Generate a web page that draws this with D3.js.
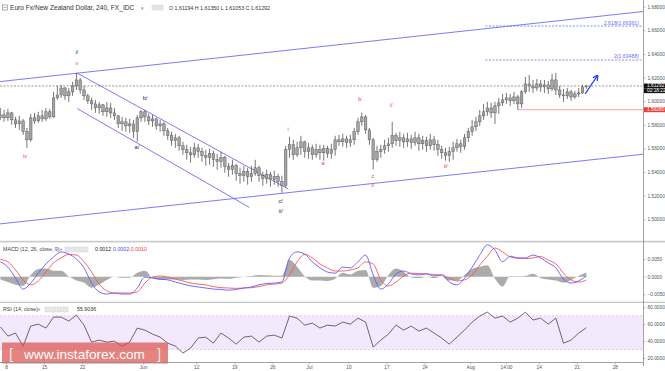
<!DOCTYPE html>
<html>
<head>
<meta charset="utf-8">
<script src="https://cdn.jsdelivr.net/npm/d3@7/dist/d3.min.js"></script>
<style>
  body { margin: 0; background: #fff; }
  svg { display: block; font-family: "Liberation Sans", Arial, sans-serif; }
</style>
</head>
<body>
<div id="chart"></div>
<script>
// ---- data ----
// 12h bars, first bar at trading day -0.75 (day 0 = 8 May)
const firstOpen = 1.5860;
const closes = [1.5884,1.5859,1.5901,1.5842,1.5808,1.5833,1.5741,1.5673,1.5859,1.5833,
  1.5876,1.5850,1.5910,1.5867,1.6028,1.6053,1.6112,1.6045,1.6079,1.6129,
  1.6180,1.6095,1.6045,1.6003,1.5977,1.5943,1.5969,1.5910,1.5943,1.5901,
  1.5876,1.5808,1.5825,1.5791,1.5808,1.5741,1.5859,1.5910,1.5867,1.5833,
  1.5850,1.5791,1.5808,1.5749,1.5707,1.5665,1.5690,1.5622,1.5589,1.5563,
  1.5546,1.5605,1.5572,1.5538,1.5521,1.5555,1.5504,1.5487,1.5521,1.5445,
  1.5420,1.5453,1.5386,1.5369,1.5403,1.5360,1.5386,1.5436,1.5369,1.5344,
  1.5377,1.5335,1.5360,1.5318,1.5284,1.5589,1.5631,1.5546,1.5605,1.5656,
  1.5572,1.5605,1.5546,1.5589,1.5563,1.5597,1.5555,1.5589,1.5673,1.5656,
  1.5681,1.5648,1.5673,1.5741,1.5825,1.5867,1.5757,1.5673,1.5504,1.5572,
  1.5589,1.5622,1.5639,1.5707,1.5665,1.5690,1.5656,1.5681,1.5648,1.5690,
  1.5639,1.5665,1.5622,1.5673,1.5631,1.5589,1.5563,1.5538,1.5572,1.5605,
  1.5639,1.5614,1.5690,1.5741,1.5783,1.5825,1.5876,1.5910,1.5943,1.5901,
  1.5960,1.5986,1.6011,1.6028,1.6003,1.6036,1.5977,1.6079,1.6146,1.6129,
  1.6112,1.6146,1.6121,1.6138,1.6104,1.6180,1.6095,1.6053,1.6045,1.6079,
  1.6036,1.6062,1.6070,1.6121,1.61292];
const highs = [1.5943,1.5926,1.5935,1.5910,1.5867,1.5876,1.5850,1.5774,1.5893,1.5901,
  1.5910,1.5926,1.5943,1.5935,1.6079,1.6129,1.6138,1.6121,1.6112,1.6163,
  1.6239,1.6197,1.6129,1.6062,1.6028,1.6011,1.5994,1.5977,1.5994,1.5986,
  1.5943,1.5884,1.5867,1.5859,1.5850,1.5842,1.5884,1.5926,1.5926,1.5893,
  1.5884,1.5859,1.5842,1.5825,1.5774,1.5741,1.5724,1.5707,1.5656,1.5631,
  1.5614,1.5648,1.5639,1.5605,1.5589,1.5597,1.5580,1.5555,1.5572,1.5538,
  1.5479,1.5504,1.5470,1.5436,1.5453,1.5436,1.5453,1.5504,1.5453,1.5403,
  1.5420,1.5403,1.5411,1.5386,1.5369,1.5622,1.5698,1.5673,1.5656,1.5707,
  1.5665,1.5648,1.5631,1.5639,1.5631,1.5631,1.5622,1.5639,1.5707,1.5715,
  1.5724,1.5707,1.5715,1.5774,1.5859,1.5901,1.5884,1.5774,1.5690,1.5622,
  1.5631,1.5673,1.5690,1.5825,1.5732,1.5741,1.5724,1.5732,1.5715,1.5741,
  1.5724,1.5707,1.5698,1.5724,1.5707,1.5673,1.5622,1.5605,1.5614,1.5656,
  1.5681,1.5673,1.5724,1.5774,1.5842,1.5867,1.5926,1.5977,1.5994,1.5986,
  1.5994,1.6028,1.6062,1.6070,1.6062,1.6079,1.6053,1.6095,1.6205,1.6222,
  1.6180,1.6188,1.6180,1.6180,1.6171,1.6231,1.6239,1.6129,1.6104,1.6112,
  1.6095,1.6087,1.6112,1.6138,1.61350];
const lows = [1.5842,1.5825,1.5833,1.5800,1.5774,1.5757,1.5715,1.5605,1.5656,1.5808,
  1.5817,1.5825,1.5833,1.5850,1.5859,1.6011,1.6028,1.6011,1.5994,1.6045,
  1.6095,1.6062,1.6011,1.5977,1.5926,1.5901,1.5893,1.5876,1.5867,1.5859,
  1.5842,1.5774,1.5749,1.5741,1.5732,1.5690,1.5656,1.5825,1.5825,1.5800,
  1.5783,1.5757,1.5741,1.5707,1.5673,1.5622,1.5605,1.5580,1.5546,1.5504,
  1.5479,1.5521,1.5521,1.5487,1.5453,1.5462,1.5445,1.5420,1.5436,1.5394,
  1.5360,1.5377,1.5327,1.5301,1.5318,1.5293,1.5318,1.5369,1.5318,1.5284,
  1.5301,1.5276,1.5293,1.5276,1.5225,1.5268,1.5521,1.5504,1.5529,1.5546,
  1.5521,1.5513,1.5504,1.5521,1.5504,1.5496,1.5521,1.5513,1.5538,1.5622,
  1.5614,1.5605,1.5614,1.5631,1.5715,1.5791,1.5724,1.5631,1.5420,1.5487,
  1.5521,1.5555,1.5572,1.5605,1.5622,1.5614,1.5605,1.5614,1.5597,1.5622,
  1.5580,1.5589,1.5572,1.5589,1.5580,1.5538,1.5513,1.5496,1.5487,1.5504,
  1.5572,1.5563,1.5589,1.5656,1.5707,1.5749,1.5791,1.5842,1.5876,1.5859,
  1.5808,1.5893,1.5960,1.5977,1.5960,1.5977,1.5926,1.5943,1.6062,1.6079,
  1.6070,1.6087,1.6079,1.6070,1.6062,1.6087,1.6053,1.6028,1.5994,1.6019,
  1.6003,1.6019,1.6036,1.6062,1.61053];

// daily samples of the indicators, first at day -0.75
const macdLine = [0.0042,0.0027,-0.0004,-0.0035,-0.0018,0.0010,0.0036,0.0056,0.0070,0.0064,
  0.0050,0.0025,-0.0018,-0.0043,-0.0049,-0.0046,-0.0049,-0.0049,-0.0032,-0.0001,
  -0.0004,-0.0007,-0.0009,-0.0015,-0.0021,-0.0026,-0.0029,-0.0032,-0.0035,-0.0036,
  -0.0038,-0.0036,-0.0032,-0.0029,-0.0023,-0.0019,-0.0018,-0.0015,0.0053,0.0070,
  0.0064,0.0042,0.0025,0.0013,0.0010,0.0027,0.0025,0.0042,0.0061,0.0005,
  -0.0035,-0.0021,0.0008,0.0016,0.0008,0.0005,0.0008,0.0002,0.0005,-0.0015,
  -0.0023,-0.0004,0.0027,0.0061,0.0090,0.0075,0.0042,0.0058,0.0053,0.0053,
  0.0061,0.0053,0.0039,0.0025,-0.0007,-0.0018,-0.0012,0.0002];
const signalLine = [0.0049,0.0042,0.0019,-0.0009,-0.0023,-0.0012,0.0013,0.0039,0.0053,0.0063,
  0.0061,0.0042,0.0013,-0.0021,-0.0040,-0.0046,-0.0046,-0.0046,-0.0043,-0.0018,
  -0.0001,0.0002,-0.0001,-0.0007,-0.0012,-0.0018,-0.0021,-0.0023,-0.0028,-0.0031,
  -0.0032,-0.0033,-0.0032,-0.0031,-0.0028,-0.0023,-0.0021,-0.0018,0.0005,0.0042,
  0.0063,0.0053,0.0036,0.0025,0.0016,0.0016,0.0019,0.0025,0.0042,0.0036,
  -0.0009,-0.0026,-0.0015,0.0002,0.0010,0.0009,0.0008,0.0006,0.0005,-0.0004,
  -0.0012,-0.0009,0.0005,0.0033,0.0058,0.0081,0.0070,0.0056,0.0052,0.0051,
  0.0053,0.0057,0.0047,0.0036,0.0010,-0.0009,-0.0015,-0.0010];
const rsiLine = [56.9,45.9,49.5,34.1,57.8,60.1,55.4,68.4,68.4,63.7,
  70.8,58.9,38.8,41.2,38.8,40.0,34.1,38.8,55.4,53.0,
  48.3,44.7,37.6,34.1,25.8,31.7,43.6,44.7,37.6,49.5,
  43.6,36.4,44.7,45.9,38.8,45.9,47.1,43.6,69.6,67.2,
  58.9,61.3,55.4,58.9,57.8,62.5,60.1,67.2,62.5,32.9,
  41.2,48.3,58.9,53.0,57.8,51.8,55.4,49.5,43.6,36.4,
  44.7,53.0,62.5,69.6,74.3,67.2,69.6,62.5,67.2,74.3,
  64.9,67.2,60.1,67.2,37.6,41.2,49.5,55.9036];

const tickDays = [0, 5, 10, 18, 25, 30, 35, 39.8, 45, 50, 55, 61, 65.7, 70, 75, 80];
const tickLabels = ["8", "15", "22", "Jun", "12", "19", "26", "Jul", "10", "17", "24", "Aug", "14:00", "14", "21", "28"];
const priceTicks = [1.50, 1.52, 1.54, 1.56, 1.58, 1.60, 1.62, 1.64, 1.66, 1.68];
const macdTicks = [-0.005, 0, 0.005];
const rsiTicks = [20, 40, 60, 80];

// drawn annotations: [day, price]
const channels = [
  [[-0.8, 1.6166], [83.7, 1.6759]],
  [[-0.8, 1.4961], [83.7, 1.5551]],
  [[9.37, 1.6237], [37.1, 1.5256]],
  [[9.37, 1.5937], [31.97, 1.5101]]
];
const fibLevels = [
  { label: "2.618(1.66361)", value: 1.66361, from: 63 },
  { label: "2(1.63488)", value: 1.63488, from: 63 }
];
const supportLevel = { value: 1.59280, from: 67.3 };
const arrow = [[76.1, 1.6062], [77.7, 1.6214]];
const waveLabels = [
  { t: "i/", d: 9.33, p: 1.6408, red: false },
  { t: "v", d: 9.33, p: 1.6315, red: true },
  { t: "iv", d: 2.5, p: 1.5529, red: true },
  { t: "b/", d: 18.27, p: 1.6019, red: false },
  { t: "a/", d: 17.2, p: 1.5605, red: false },
  { t: "c/", d: 36.1, p: 1.5149, red: false },
  { t: "ii/", d: 36.1, p: 1.5065, red: false },
  { t: "i", d: 37.06, p: 1.5757, red: true },
  { t: "a", d: 41.66, p: 1.5470, red: true },
  { t: "b", d: 46.5, p: 1.6011, red: true },
  { t: "c", d: 48.2, p: 1.5360, red: true },
  { t: "ii", d: 48.2, p: 1.5284, red: true },
  { t: "i/", d: 50.6, p: 1.5960, red: true },
  { t: "ii/", d: 57.8, p: 1.5445, red: true }
];
const lastPrice = 1.61292;
const countdown = "02:18:22";

// ---- layout ----
const W = 665, H = 371;
const plotRight = 643;
const firstDay = -0.75, barStep = 0.5, indStep = 1;

const svg = d3.select("#chart").append("svg")
  .attr("width", W).attr("height", H);
svg.append("rect").attr("width", W).attr("height", H).attr("fill", "#fff");

const x = d3.scaleLinear().domain([-0.788, 83.7]).range([0, plotRight]);
const yP = d3.scaleLinear().domain([1.50, 1.68]).range([219.3, 6.7]);
const yM = d3.scaleLinear().domain([-0.005, 0.005]).range([294.4, 259]);
const yR = d3.scaleLinear().domain([20, 80]).range([358, 307.3]);

const defs = svg.append("defs");
defs.append("clipPath").attr("id", "cpMain").append("rect").attr("width", plotRight).attr("height", 241);
defs.append("clipPath").attr("id", "cpMacd").append("rect").attr("y", 243).attr("width", plotRight).attr("height", 59);
defs.append("clipPath").attr("id", "cpRsi").append("rect").attr("y", 303).attr("width", plotRight).attr("height", 59);
defs.append("marker").attr("id", "arrowHead").attr("viewBox", "0 0 10 10")
  .attr("refX", 8).attr("refY", 5).attr("markerWidth", 5).attr("markerHeight", 5)
  .attr("orient", "auto")
  .append("path").attr("d", "M0,0 L10,5 L0,10").attr("fill", "none")
  .attr("stroke", "#2340f0").attr("stroke-width", 2);

// ---- main price pane ----
const main = svg.append("g").attr("clip-path", "url(#cpMain)");

// channel lines
main.selectAll("line.channel").data(channels).join("line")
  .attr("class", "channel")
  .attr("x1", d => x(d[0][0])).attr("y1", d => yP(d[0][1]))
  .attr("x2", d => x(d[1][0])).attr("y2", d => yP(d[1][1]))
  .attr("stroke", "#6a6cf6").attr("stroke-width", 0.9);

// fib levels
main.selectAll("line.fib").data(fibLevels).join("line")
  .attr("class", "fib")
  .attr("x1", d => x(d.from)).attr("x2", plotRight)
  .attr("y1", d => yP(d.value)).attr("y2", d => yP(d.value))
  .attr("stroke", "#6a6cf6").attr("stroke-width", 0.8).attr("stroke-dasharray", "2,1.5");
main.selectAll("text.fib").data(fibLevels).join("text")
  .attr("class", "fib")
  .attr("x", plotRight - 4).attr("y", d => yP(d.value) - 1.5)
  .attr("text-anchor", "end").attr("font-size", 5.2).attr("fill", "#6a6cf6")
  .text(d => d.label);

// last price dashed line + support
main.append("line")
  .attr("x1", 0).attr("x2", plotRight)
  .attr("y1", yP(lastPrice)).attr("y2", yP(lastPrice))
  .attr("stroke", "#555").attr("stroke-width", 0.6).attr("stroke-dasharray", "2,1.5");
main.append("line")
  .attr("x1", x(supportLevel.from)).attr("x2", plotRight)
  .attr("y1", yP(supportLevel.value)).attr("y2", yP(supportLevel.value))
  .attr("stroke", "#f59a9a").attr("stroke-width", 0.9);

// candles
const bars = closes.map((c, i) => ({
  d: firstDay + i * barStep,
  o: i ? closes[i - 1] : firstOpen,
  h: highs[i], l: lows[i], c: c
}));
const gc = main.append("g");
gc.selectAll("line.wick").data(bars).join("line")
  .attr("class", "wick")
  .attr("x1", b => x(b.d)).attr("x2", b => x(b.d))
  .attr("y1", b => yP(Math.max(b.h, b.o, b.c)))
  .attr("y2", b => yP(Math.min(b.l, b.o, b.c)))
  .attr("stroke", "#3c3c3c").attr("stroke-width", 0.7);
gc.selectAll("rect.body").data(bars).join("rect")
  .attr("class", "body")
  .attr("x", b => x(b.d) - 1.3).attr("width", 2.6)
  .attr("y", b => yP(Math.max(b.o, b.c)))
  .attr("height", b => Math.max(0.6, Math.abs(yP(b.o) - yP(b.c))))
  .attr("fill", "#a4a4a4").attr("stroke", "#4a4a4a").attr("stroke-width", 0.4);

// arrow
main.append("line")
  .attr("x1", x(arrow[0][0])).attr("y1", yP(arrow[0][1]))
  .attr("x2", x(arrow[1][0])).attr("y2", yP(arrow[1][1]))
  .attr("stroke", "#2340f0").attr("stroke-width", 1.2)
  .attr("marker-end", "url(#arrowHead)");

// wave labels
main.selectAll("text.wave").data(waveLabels).join("text")
  .attr("class", "wave")
  .attr("x", d => x(d.d)).attr("y", d => yP(d.p))
  .attr("text-anchor", "middle").attr("dominant-baseline", "middle")
  .attr("font-size", 5.6)
  .attr("fill", d => d.red ? "#e8453c" : "#222")
  .text(d => d.t);

// title
const title = svg.append("g");
title.append("rect").attr("x", 2.5).attr("y", 5).attr("width", 5).attr("height", 5)
  .attr("fill", "none").attr("stroke", "#777").attr("stroke-width", 0.6);
title.append("line").attr("x1", 3.7).attr("x2", 6.3).attr("y1", 7.5).attr("y2", 7.5)
  .attr("stroke", "#777").attr("stroke-width", 0.6);
title.append("text").attr("x", 10).attr("y", 10).attr("font-size", 6.6).attr("fill", "#333")
  .text("Euro Fx/New Zealand Dollar, 240, FX_IDC");
title.append("text").attr("x", 140).attr("y", 9.5).attr("font-size", 4.5).attr("fill", "#999").text("▼");
[152, 158].forEach(px => title.append("rect").attr("x", px).attr("y", 5).attr("width", 5).attr("height", 5)
  .attr("fill", "#e4e4e4").attr("stroke", "#ccc").attr("stroke-width", 0.4));
title.append("text").attr("x", 169).attr("y", 9.6).attr("font-size", 5.3).attr("fill", "#333")
  .text("O 1.61194  H 1.61350  L 1.61053  C 1.61292");

// ---- MACD pane ----
const macdG = svg.append("g").attr("clip-path", "url(#cpMacd)");
const mData = macdLine.map((m, k) => ({ d: firstDay + k * indStep, m: m, s: signalLine[k], h: m - signalLine[k] }));
macdG.append("path").datum(mData)
  .attr("d", d3.area().x(p => x(p.d)).y0(yM(0)).y1(p => yM(p.h)).curve(d3.curveMonotoneX))
  .attr("fill", "#9c9c9c").attr("fill-opacity", 0.85);
macdG.append("path").datum(mData)
  .attr("d", d3.line().x(p => x(p.d)).y(p => yM(p.s)).curve(d3.curveMonotoneX))
  .attr("fill", "none").attr("stroke", "#ff5252").attr("stroke-width", 0.9);
macdG.append("path").datum(mData)
  .attr("d", d3.line().x(p => x(p.d)).y(p => yM(p.m)).curve(d3.curveMonotoneX))
  .attr("fill", "none").attr("stroke", "#5a5cff").attr("stroke-width", 0.9);

const mt = svg.append("g").attr("font-size", 5.3);
mt.append("text").attr("x", 3).attr("y", 251).attr("fill", "#444").text("MACD (12, 26, close, 9)");
mt.append("text").attr("x", 59).attr("y", 250.5).attr("font-size", 4).attr("fill", "#999").text("▼");
[65, 71, 77, 83].forEach(px => mt.append("rect").attr("x", px).attr("y", 247).attr("width", 5).attr("height", 5)
  .attr("fill", "#e8e8e8").attr("stroke", "#ccc").attr("stroke-width", 0.4));
mt.append("text").attr("x", 95).attr("y", 251).attr("fill", "#222").text("0.0012");
mt.append("text").attr("x", 113).attr("y", 251).attr("fill", "#4b4df5").text("0.0002");
mt.append("text").attr("x", 129).attr("y", 251).attr("fill", "#f04040").text("-0.0010");

// ---- RSI pane ----
const rsiG = svg.append("g").attr("clip-path", "url(#cpRsi)");
rsiG.append("rect").attr("x", 0).attr("width", plotRight)
  .attr("y", yR(70)).attr("height", yR(30) - yR(70)).attr("fill", "#f4e9fc");
[70, 30].forEach(v => rsiG.append("line").attr("x1", 0).attr("x2", plotRight)
  .attr("y1", yR(v)).attr("y2", yR(v))
  .attr("stroke", "#c9bcd3").attr("stroke-width", 0.6).attr("stroke-dasharray", "2,2"));
const rData = rsiLine.map((r, k) => ({ d: firstDay + k * indStep, r: r }));
rsiG.append("path").datum(rData)
  .attr("d", d3.line().x(p => x(p.d)).y(p => yR(p.r)))
  .attr("fill", "none").attr("stroke", "#4a3f58").attr("stroke-width", 0.8);

const rt = svg.append("g").attr("font-size", 5.3);
rt.append("text").attr("x", 3).attr("y", 311).attr("fill", "#444").text("RSI (14, close)");
rt.append("text").attr("x", 37).attr("y", 310.5).attr("font-size", 4).attr("fill", "#999").text("▼");
[45, 51, 57, 63].forEach(px => rt.append("rect").attr("x", px).attr("y", 307).attr("width", 5).attr("height", 5)
  .attr("fill", "#e8e8e8").attr("stroke", "#ccc").attr("stroke-width", 0.4));
rt.append("text").attr("x", 77).attr("y", 311).attr("fill", "#333").text("55.9036");

// watermark
const wm = svg.append("g");
wm.append("rect").attr("x", 2).attr("y", 342.5).attr("width", 166).attr("height", 21)
  .attr("fill", "#d9534f").attr("fill-opacity", 0.72);
wm.append("text").attr("x", 9).attr("y", 358.5).attr("font-size", 15).attr("fill", "#fff").attr("fill-opacity", 0.8).text("[");
wm.append("text").attr("x", 24).attr("y", 358.5).attr("font-size", 13.6).attr("fill", "#fff")
  .text("www.instaforex.com");
wm.append("text").attr("x", 157).attr("y", 358.5).attr("font-size", 15).attr("fill", "#fff").attr("fill-opacity", 0.8).text("]");

// ---- frames and separators ----
svg.append("rect").attr("x", 0).attr("y", 240.8).attr("width", W).attr("height", 1.6).attr("fill", "#c9c9c9");
svg.append("rect").attr("x", 0).attr("y", 301.8).attr("width", W).attr("height", 1).attr("fill", "#b5b5b5");
svg.append("line").attr("x1", 0).attr("x2", plotRight).attr("y1", 362.5).attr("y2", 362.5)
  .attr("stroke", "#8c8c8c").attr("stroke-width", 0.8);
svg.append("line").attr("x1", plotRight + 0.5).attr("x2", plotRight + 0.5).attr("y1", 0).attr("y2", 366)
  .attr("stroke", "#8c8c8c").attr("stroke-width", 0.8);

// ---- axes ----
function styleAxis(g) {
  g.select(".domain").remove();
  g.selectAll(".tick line").attr("stroke", "#8c8c8c").attr("stroke-width", 0.6);
  g.selectAll(".tick text").attr("fill", "#555").attr("font-size", 4.8)
    .attr("font-family", "'Liberation Sans', Arial, sans-serif");
}
svg.append("g").attr("transform", `translate(${plotRight + 0.5},0)`)
  .call(d3.axisRight(yP).tickValues(priceTicks).tickFormat(d3.format(".5f")).tickSize(2).tickPadding(2))
  .call(styleAxis);
svg.append("g").attr("transform", `translate(${plotRight + 0.5},0)`)
  .call(d3.axisRight(yM).tickValues(macdTicks).tickFormat(d3.format(".4f")).tickSize(2).tickPadding(2))
  .call(styleAxis);
svg.append("g").attr("transform", `translate(${plotRight + 0.5},0)`)
  .call(d3.axisRight(yR).tickValues(rsiTicks).tickFormat(d3.format(".4f")).tickSize(2).tickPadding(2))
  .call(styleAxis);
svg.append("g").attr("transform", "translate(0,362.5)")
  .call(d3.axisBottom(x).tickValues(tickDays).tickFormat((d, i) => tickLabels[i]).tickSize(2).tickPadding(1.5))
  .call(styleAxis);

// ---- price tags on the axis ----
function tag(yv, h, fill, label) {
  svg.append("rect").attr("x", plotRight + 1).attr("y", yv - h / 2).attr("width", W - plotRight - 1).attr("height", h).attr("fill", fill);
  svg.append("text").attr("x", plotRight + 4).attr("y", yv).attr("dominant-baseline", "central")
    .attr("font-size", 4.8).attr("fill", "#fff").text(label);
}
tag(yP(lastPrice), 4.8, "#111", d3.format(".5f")(lastPrice));
tag(yP(lastPrice) + 4.8, 4.8, "#111", countdown);
tag(yP(supportLevel.value), 5, "#f03a3a", d3.format(".5f")(supportLevel.value));
</script>
</body>
</html>
